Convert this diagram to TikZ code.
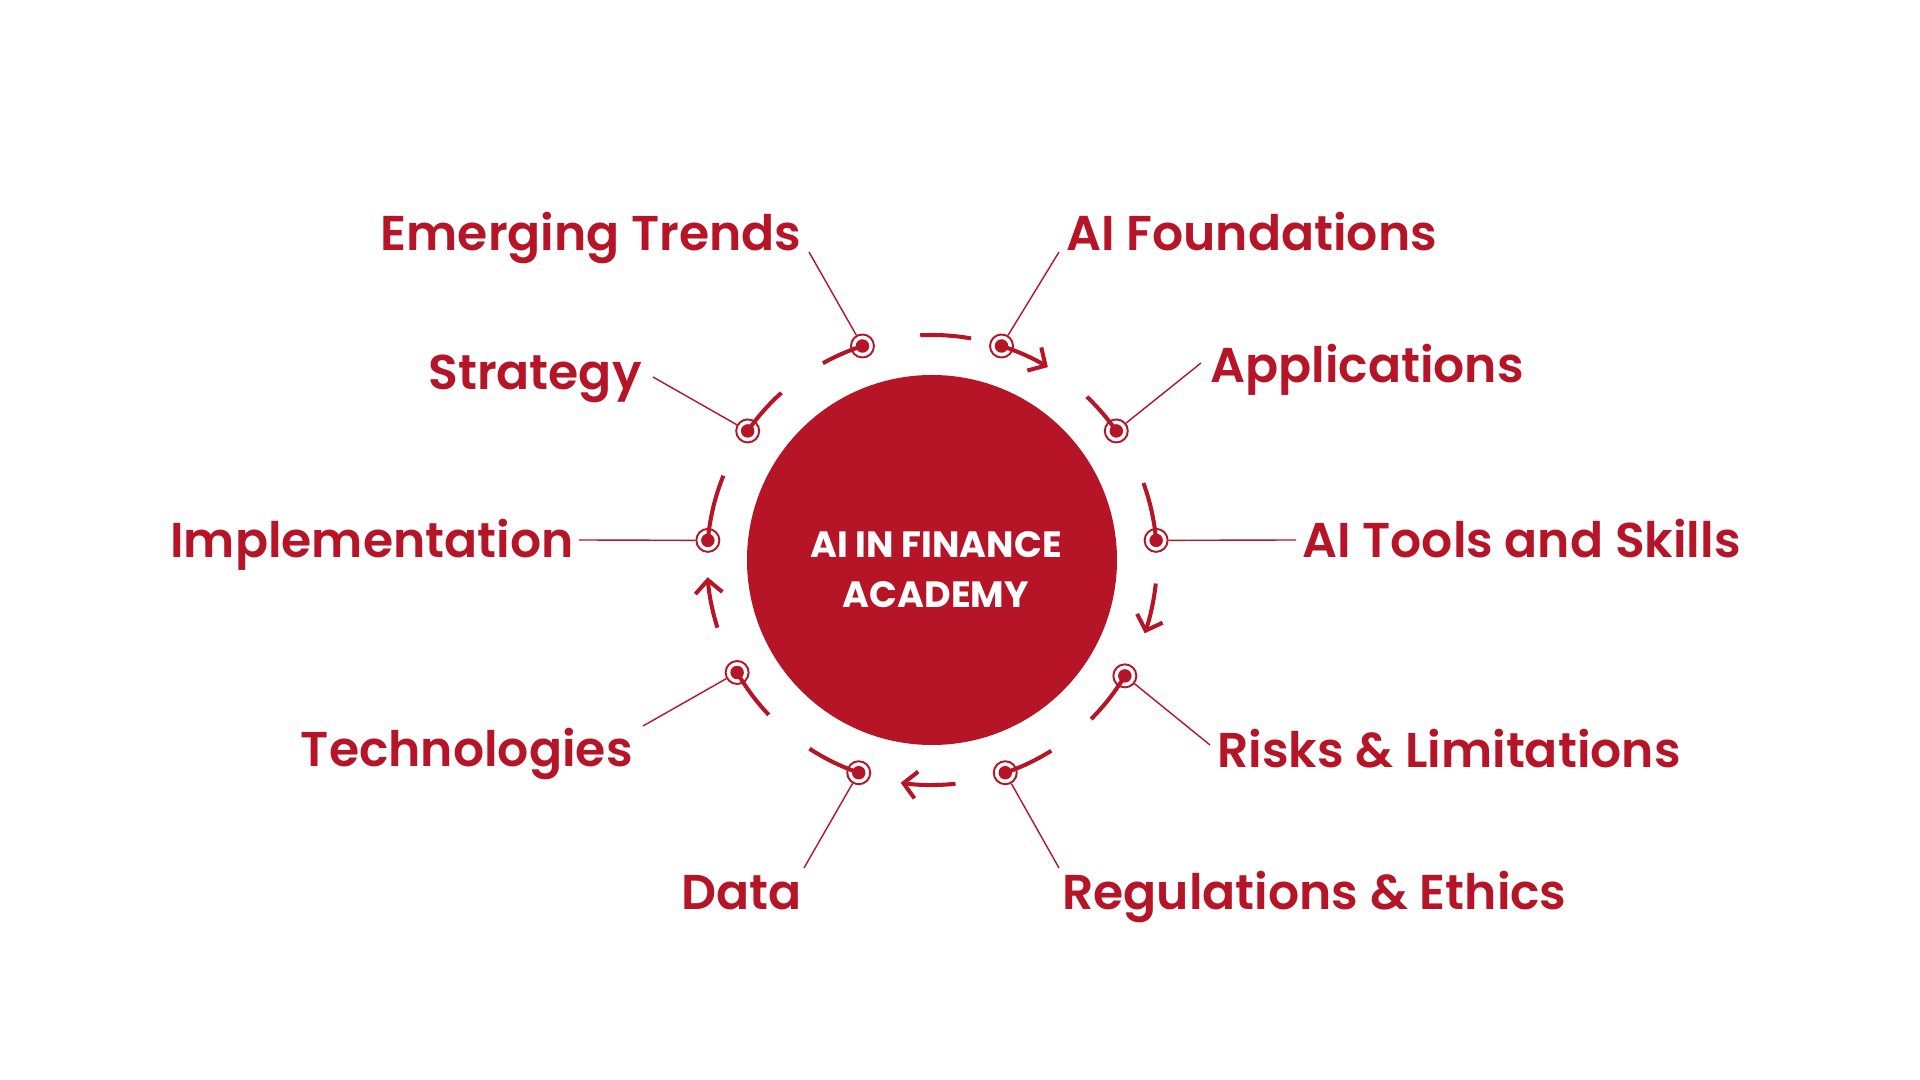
\documentclass[tikz,border=0pt]{standalone}
\usepackage{fontspec}
\IfFontExistsTF{Poppins SemiBold}
    {\setmainfont{Poppins}[BoldFont={Poppins SemiBold}]\newfontfamily\hubfont{Poppins Bold}}
    {\setmainfont{Poppins}\newfontfamily\hubfont{Poppins}[UprightFont={* Bold}]}
\usetikzlibrary{arrows.meta}
\definecolor{finred}{RGB}{181,21,39}

\begin{document}
\begin{tikzpicture}[x=0.2mm, y=0.2mm,
        ringseg/.style={finred, line width=2.3pt},
        ringarrow/.style={ringseg, -{Straight Barb[length=2.6mm, width=5.4mm]}},
        dotmark/.style={circle, draw=finred, line width=1.1pt, minimum size=4.6mm, inner sep=0pt,
            path picture={\fill[finred] (path picture bounding box.center) circle (1.35mm);}},
        leader/.style={finred, line width=0.8pt},
        topic/.style={text=finred, inner sep=0pt, font=\fontsize{27.8}{33}\selectfont\bfseries},
        hub/.style={circle, fill=finred, minimum size=74mm}]
        \def\ringrad{45mm}

        % fix the page size
        \useasboundingbox[fill=white] (-932,-520) rectangle (988,560);

        % draw the centre disc and its title
        \node[hub] (hub) at (0,0) {};
        \node[text=white, align=center, font=\hubfont\fontsize{20.8}{28.5}\selectfont] (title) at (4,-10)
            {AI IN FINANCE\\ACADEMY};

        % draw the arcs of the ring
        \draw[ringseg] (119:\ringrad) arc[start angle=119, end angle=108, radius=\ringrad];
        \draw[ringseg] (93:\ringrad) arc[start angle=93, end angle=80, radius=\ringrad];
        \draw[ringarrow] (72:\ringrad) arc[start angle=72, end angle=59, radius=\ringrad];
        \draw[ringseg] (46.5:\ringrad) arc[start angle=46.5, end angle=35, radius=\ringrad];
        \draw[ringseg] (20:\ringrad) arc[start angle=20, end angle=5, radius=\ringrad];
        \draw[ringarrow] (-6:\ringrad) arc[start angle=-6, end angle=-19, radius=\ringrad];
        \draw[ringseg] (-31:\ringrad) arc[start angle=-31, end angle=-45, radius=\ringrad];
        \draw[ringseg] (-58:\ringrad) arc[start angle=-58, end angle=-71, radius=\ringrad];
        \draw[ringarrow] (-84:\ringrad) arc[start angle=-84, end angle=-98, radius=\ringrad];
        \draw[ringseg] (-109:\ringrad) arc[start angle=-109, end angle=-123, radius=\ringrad];
        \draw[ringseg] (-150:\ringrad) arc[start angle=-150, end angle=-136.5, radius=\ringrad];
        \draw[ringarrow] (197.5:\ringrad) arc[start angle=197.5, end angle=184.4, radius=\ringrad];
        \draw[ringseg] (158:\ringrad) arc[start angle=158, end angle=175, radius=\ringrad];
        \draw[ringseg] (145:\ringrad) arc[start angle=145, end angle=132, radius=\ringrad];

        % draw the markers on the ring
        \node[dotmark] (memerg) at (108:\ringrad) {};
        \node[dotmark] (mfound) at (72:\ringrad) {};
        \node[dotmark] (mappl) at (35:\ringrad) {};
        \node[dotmark] (mtools) at (5:\ringrad) {};
        \node[dotmark] (mrisks) at (-31:\ringrad) {};
        \node[dotmark] (mregs) at (-71:\ringrad) {};
        \node[dotmark] (mdata) at (-109:\ringrad) {};
        \node[dotmark] (mtech) at (-150:\ringrad) {};
        \node[dotmark] (mimpl) at (175:\ringrad) {};
        \node[dotmark] (mstrat) at (145:\ringrad) {};

        % free ends of the leader lines
        \coordinate (cemerg) at (-123,308);
        \coordinate (cfound) at (127,308);
        \coordinate (cappl) at (269,197);
        \coordinate (ctools) at (364,20);
        \coordinate (crisks) at (278,-185);
        \coordinate (cregs) at (127,-308);
        \coordinate (cdata) at (-128,-308);
        \coordinate (ctech) at (-289,-166);
        \coordinate (cimpl) at (-353,20);
        \coordinate (cstrat) at (-279,183);

        % draw the leader lines
        \draw[leader] (memerg) -- (cemerg);
        \draw[leader] (mfound) -- (cfound);
        \draw[leader] (mappl) -- (cappl);
        \draw[leader] (mtools) -- (ctools);
        \draw[leader] (mrisks) -- (crisks);
        \draw[leader] (mregs) -- (cregs);
        \draw[leader] (mdata) -- (cdata);
        \draw[leader] (mtech) -- (ctech);
        \draw[leader] (mimpl) -- (cimpl);
        \draw[leader] (mstrat) -- (cstrat);

        % draw the labels
        \node[topic, anchor=base east] (emerg) at (-130,309) {Emerging Trends};
        \node[topic, anchor=base west] (found) at (134,309) {AI Foundations};
        \node[topic, anchor=base west] (appl) at (278,177) {Applications};
        \node[topic, anchor=base west] (tools) at (370,2) {AI Tools and Skills};
        \node[topic, anchor=base west] (risks) at (285,-208) {Risks \& Limitations};
        \node[topic, anchor=base west] (regs) at (130,-350) {Regulations \& Ethics};
        \node[topic, anchor=base east] (data) at (-130,-350) {Data};
        \node[topic, anchor=base east] (tech) at (-299,-207) {Technologies};
        \node[topic, anchor=base east] (impl) at (-358,2) {Implementation};
        \node[topic, anchor=base east] (strat) at (-290,170) {Strategy};
    \end{tikzpicture}
\end{document}
